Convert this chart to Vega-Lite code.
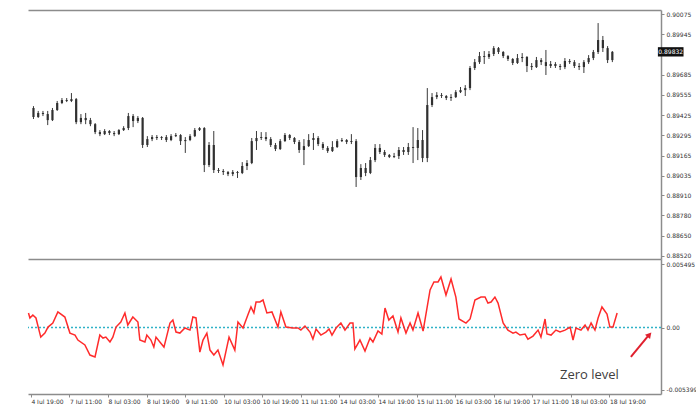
{
  "$schema": "https://vega.github.io/schema/vega-lite/v6.json",
  "background": "white",
  "padding": {"left": 25, "top": 10, "right": 0, "bottom": 0},
  "spacing": 0,
  "config": {
    "view": {"stroke": null},
    "axis": {
      "grid": false,
      "domainColor": "#8c8c8c",
      "domainWidth": 1.5,
      "tickColor": "#8c8c8c",
      "tickSize": 3,
      "labelFont": "DejaVu Sans",
      "labelFontSize": 6,
      "labelColor": "#333333",
      "labelPadding": 2,
      "labelOverlap": false,
      "labelBound": false,
      "labelFlush": false
    },
    "axisY": {"labelOverlap": false}
  },
  "datasets": {
    "candles": [
      {"t": -1, "o": 0.89471, "hi": 0.89483, "lo": 0.89400, "c": 0.89413},
      {"t": 1, "o": 0.89413, "hi": 0.89452, "lo": 0.89407, "c": 0.89439},
      {"t": 3, "o": 0.89439, "hi": 0.89452, "lo": 0.89419, "c": 0.89432},
      {"t": 5, "o": 0.89432, "hi": 0.89452, "lo": 0.89361, "c": 0.89393},
      {"t": 7, "o": 0.89393, "hi": 0.89471, "lo": 0.89387, "c": 0.89458},
      {"t": 9, "o": 0.89458, "hi": 0.89516, "lo": 0.89452, "c": 0.89503},
      {"t": 11, "o": 0.89503, "hi": 0.89535, "lo": 0.89496, "c": 0.89522},
      {"t": 13, "o": 0.89522, "hi": 0.89535, "lo": 0.89509, "c": 0.89516},
      {"t": 15, "o": 0.89516, "hi": 0.89567, "lo": 0.89509, "c": 0.89528},
      {"t": 17, "o": 0.89528, "hi": 0.89535, "lo": 0.89367, "c": 0.89380},
      {"t": 19, "o": 0.89380, "hi": 0.89432, "lo": 0.89367, "c": 0.89407},
      {"t": 21, "o": 0.89407, "hi": 0.89439, "lo": 0.89367, "c": 0.89393},
      {"t": 23, "o": 0.89393, "hi": 0.89407, "lo": 0.89354, "c": 0.89367},
      {"t": 25, "o": 0.89367, "hi": 0.89374, "lo": 0.89303, "c": 0.89316},
      {"t": 27, "o": 0.89316, "hi": 0.89329, "lo": 0.89290, "c": 0.89303},
      {"t": 29, "o": 0.89303, "hi": 0.89335, "lo": 0.89297, "c": 0.89323},
      {"t": 31, "o": 0.89323, "hi": 0.89329, "lo": 0.89297, "c": 0.89310},
      {"t": 33, "o": 0.89310, "hi": 0.89323, "lo": 0.89290, "c": 0.89303},
      {"t": 35, "o": 0.89303, "hi": 0.89335, "lo": 0.89297, "c": 0.89329},
      {"t": 37, "o": 0.89329, "hi": 0.89354, "lo": 0.89323, "c": 0.89342},
      {"t": 39, "o": 0.89342, "hi": 0.89439, "lo": 0.89329, "c": 0.89419},
      {"t": 41, "o": 0.89419, "hi": 0.89432, "lo": 0.89348, "c": 0.89387},
      {"t": 43, "o": 0.89387, "hi": 0.89419, "lo": 0.89374, "c": 0.89407},
      {"t": 45, "o": 0.89407, "hi": 0.89413, "lo": 0.89214, "c": 0.89233},
      {"t": 47, "o": 0.89233, "hi": 0.89290, "lo": 0.89220, "c": 0.89271},
      {"t": 49, "o": 0.89271, "hi": 0.89297, "lo": 0.89258, "c": 0.89284},
      {"t": 51, "o": 0.89284, "hi": 0.89297, "lo": 0.89265, "c": 0.89278},
      {"t": 53, "o": 0.89278, "hi": 0.89290, "lo": 0.89265, "c": 0.89284},
      {"t": 55, "o": 0.89284, "hi": 0.89297, "lo": 0.89252, "c": 0.89265},
      {"t": 57, "o": 0.89265, "hi": 0.89303, "lo": 0.89258, "c": 0.89290},
      {"t": 59, "o": 0.89290, "hi": 0.89310, "lo": 0.89284, "c": 0.89297},
      {"t": 61, "o": 0.89297, "hi": 0.89303, "lo": 0.89233, "c": 0.89258},
      {"t": 63, "o": 0.89258, "hi": 0.89284, "lo": 0.89182, "c": 0.89265},
      {"t": 65, "o": 0.89265, "hi": 0.89303, "lo": 0.89258, "c": 0.89290},
      {"t": 67, "o": 0.89290, "hi": 0.89342, "lo": 0.89284, "c": 0.89329},
      {"t": 69, "o": 0.89329, "hi": 0.89348, "lo": 0.89323, "c": 0.89342},
      {"t": 71, "o": 0.89342, "hi": 0.89348, "lo": 0.89059, "c": 0.89104},
      {"t": 73, "o": 0.89104, "hi": 0.89252, "lo": 0.89091, "c": 0.89233},
      {"t": 75, "o": 0.89233, "hi": 0.89323, "lo": 0.89053, "c": 0.89072},
      {"t": 77, "o": 0.89072, "hi": 0.89085, "lo": 0.89053, "c": 0.89066},
      {"t": 79, "o": 0.89066, "hi": 0.89078, "lo": 0.89040, "c": 0.89059},
      {"t": 81, "o": 0.89059, "hi": 0.89066, "lo": 0.89033, "c": 0.89046},
      {"t": 83, "o": 0.89046, "hi": 0.89072, "lo": 0.89033, "c": 0.89059},
      {"t": 85, "o": 0.89059, "hi": 0.89066, "lo": 0.89021, "c": 0.89053},
      {"t": 87, "o": 0.89053, "hi": 0.89123, "lo": 0.89046, "c": 0.89098},
      {"t": 89, "o": 0.89098, "hi": 0.89136, "lo": 0.89072, "c": 0.89117},
      {"t": 91, "o": 0.89117, "hi": 0.89278, "lo": 0.89110, "c": 0.89258},
      {"t": 93, "o": 0.89258, "hi": 0.89323, "lo": 0.89201, "c": 0.89278},
      {"t": 95, "o": 0.89278, "hi": 0.89316, "lo": 0.89265, "c": 0.89284},
      {"t": 97, "o": 0.89284, "hi": 0.89316, "lo": 0.89258, "c": 0.89271},
      {"t": 99, "o": 0.89271, "hi": 0.89284, "lo": 0.89220, "c": 0.89233},
      {"t": 101, "o": 0.89233, "hi": 0.89246, "lo": 0.89194, "c": 0.89207},
      {"t": 103, "o": 0.89207, "hi": 0.89271, "lo": 0.89201, "c": 0.89258},
      {"t": 105, "o": 0.89258, "hi": 0.89310, "lo": 0.89252, "c": 0.89297},
      {"t": 107, "o": 0.89297, "hi": 0.89303, "lo": 0.89265, "c": 0.89278},
      {"t": 109, "o": 0.89278, "hi": 0.89284, "lo": 0.89239, "c": 0.89252},
      {"t": 111, "o": 0.89252, "hi": 0.89265, "lo": 0.89182, "c": 0.89201},
      {"t": 113, "o": 0.89201, "hi": 0.89271, "lo": 0.89104, "c": 0.89226},
      {"t": 115, "o": 0.89226, "hi": 0.89303, "lo": 0.89220, "c": 0.89265},
      {"t": 117, "o": 0.89265, "hi": 0.89310, "lo": 0.89201, "c": 0.89278},
      {"t": 119, "o": 0.89278, "hi": 0.89290, "lo": 0.89226, "c": 0.89239},
      {"t": 121, "o": 0.89239, "hi": 0.89252, "lo": 0.89201, "c": 0.89214},
      {"t": 123, "o": 0.89214, "hi": 0.89226, "lo": 0.89182, "c": 0.89194},
      {"t": 125, "o": 0.89194, "hi": 0.89258, "lo": 0.89188, "c": 0.89220},
      {"t": 127, "o": 0.89220, "hi": 0.89271, "lo": 0.89214, "c": 0.89258},
      {"t": 129, "o": 0.89258, "hi": 0.89278, "lo": 0.89252, "c": 0.89265},
      {"t": 131, "o": 0.89265, "hi": 0.89271, "lo": 0.89239, "c": 0.89252},
      {"t": 133, "o": 0.89252, "hi": 0.89303, "lo": 0.89239, "c": 0.89258},
      {"t": 135, "o": 0.89258, "hi": 0.89271, "lo": 0.88963, "c": 0.89027},
      {"t": 137, "o": 0.89027, "hi": 0.89110, "lo": 0.89008, "c": 0.89085},
      {"t": 139, "o": 0.89085, "hi": 0.89117, "lo": 0.89033, "c": 0.89053},
      {"t": 141, "o": 0.89053, "hi": 0.89156, "lo": 0.89046, "c": 0.89136},
      {"t": 143, "o": 0.89136, "hi": 0.89239, "lo": 0.89123, "c": 0.89214},
      {"t": 145, "o": 0.89214, "hi": 0.89239, "lo": 0.89175, "c": 0.89188},
      {"t": 147, "o": 0.89188, "hi": 0.89201, "lo": 0.89156, "c": 0.89169},
      {"t": 149, "o": 0.89169, "hi": 0.89175, "lo": 0.89149, "c": 0.89156},
      {"t": 151, "o": 0.89156, "hi": 0.89182, "lo": 0.89149, "c": 0.89162},
      {"t": 153, "o": 0.89162, "hi": 0.89220, "lo": 0.89143, "c": 0.89201},
      {"t": 155, "o": 0.89201, "hi": 0.89220, "lo": 0.89169, "c": 0.89188},
      {"t": 157, "o": 0.89188, "hi": 0.89246, "lo": 0.89169, "c": 0.89220},
      {"t": 159, "o": 0.89220, "hi": 0.89348, "lo": 0.89117, "c": 0.89214},
      {"t": 161, "o": 0.89214, "hi": 0.89342, "lo": 0.89136, "c": 0.89265},
      {"t": 163, "o": 0.89265, "hi": 0.89329, "lo": 0.89123, "c": 0.89149},
      {"t": 165, "o": 0.89149, "hi": 0.89599, "lo": 0.89123, "c": 0.89490},
      {"t": 167, "o": 0.89490, "hi": 0.89567, "lo": 0.89477, "c": 0.89541},
      {"t": 169, "o": 0.89541, "hi": 0.89573, "lo": 0.89528, "c": 0.89554},
      {"t": 171, "o": 0.89554, "hi": 0.89567, "lo": 0.89535, "c": 0.89548},
      {"t": 173, "o": 0.89548, "hi": 0.89554, "lo": 0.89522, "c": 0.89535},
      {"t": 175, "o": 0.89535, "hi": 0.89560, "lo": 0.89516, "c": 0.89541},
      {"t": 177, "o": 0.89541, "hi": 0.89586, "lo": 0.89535, "c": 0.89573},
      {"t": 179, "o": 0.89573, "hi": 0.89606, "lo": 0.89567, "c": 0.89586},
      {"t": 181, "o": 0.89586, "hi": 0.89618, "lo": 0.89548, "c": 0.89599},
      {"t": 183, "o": 0.89599, "hi": 0.89741, "lo": 0.89586, "c": 0.89728},
      {"t": 185, "o": 0.89728, "hi": 0.89786, "lo": 0.89715, "c": 0.89766},
      {"t": 187, "o": 0.89766, "hi": 0.89831, "lo": 0.89754, "c": 0.89805},
      {"t": 189, "o": 0.89805, "hi": 0.89837, "lo": 0.89754, "c": 0.89799},
      {"t": 191, "o": 0.89799, "hi": 0.89837, "lo": 0.89786, "c": 0.89818},
      {"t": 193, "o": 0.89818, "hi": 0.89869, "lo": 0.89805, "c": 0.89856},
      {"t": 195, "o": 0.89856, "hi": 0.89863, "lo": 0.89818, "c": 0.89831},
      {"t": 197, "o": 0.89831, "hi": 0.89837, "lo": 0.89792, "c": 0.89805},
      {"t": 199, "o": 0.89805, "hi": 0.89811, "lo": 0.89773, "c": 0.89786},
      {"t": 201, "o": 0.89786, "hi": 0.89792, "lo": 0.89747, "c": 0.89760},
      {"t": 203, "o": 0.89760, "hi": 0.89818, "lo": 0.89754, "c": 0.89792},
      {"t": 205, "o": 0.89792, "hi": 0.89824, "lo": 0.89766, "c": 0.89799},
      {"t": 207, "o": 0.89799, "hi": 0.89805, "lo": 0.89702, "c": 0.89741},
      {"t": 209, "o": 0.89741, "hi": 0.89760, "lo": 0.89715, "c": 0.89734},
      {"t": 211, "o": 0.89734, "hi": 0.89799, "lo": 0.89728, "c": 0.89779},
      {"t": 213, "o": 0.89779, "hi": 0.89792, "lo": 0.89747, "c": 0.89766},
      {"t": 215, "o": 0.89766, "hi": 0.89844, "lo": 0.89683, "c": 0.89741},
      {"t": 217, "o": 0.89741, "hi": 0.89773, "lo": 0.89728, "c": 0.89754},
      {"t": 219, "o": 0.89754, "hi": 0.89766, "lo": 0.89728, "c": 0.89741},
      {"t": 221, "o": 0.89741, "hi": 0.89754, "lo": 0.89715, "c": 0.89734},
      {"t": 223, "o": 0.89734, "hi": 0.89792, "lo": 0.89721, "c": 0.89773},
      {"t": 225, "o": 0.89773, "hi": 0.89786, "lo": 0.89754, "c": 0.89766},
      {"t": 227, "o": 0.89766, "hi": 0.89779, "lo": 0.89728, "c": 0.89741},
      {"t": 229, "o": 0.89741, "hi": 0.89760, "lo": 0.89715, "c": 0.89734},
      {"t": 231, "o": 0.89734, "hi": 0.89779, "lo": 0.89696, "c": 0.89766},
      {"t": 233, "o": 0.89766, "hi": 0.89811, "lo": 0.89754, "c": 0.89792},
      {"t": 235, "o": 0.89792, "hi": 0.89844, "lo": 0.89779, "c": 0.89831},
      {"t": 237, "o": 0.89831, "hi": 0.90017, "lo": 0.89818, "c": 0.89908},
      {"t": 239, "o": 0.89908, "hi": 0.89934, "lo": 0.89831, "c": 0.89856},
      {"t": 241, "o": 0.89856, "hi": 0.89869, "lo": 0.89760, "c": 0.89779},
      {"t": 243, "o": 0.89779, "hi": 0.89837, "lo": 0.89766, "c": 0.89832}
    ],
    "osc": [
      {"t": -1.0, "v": 0.00126}, {"t": -0.4, "v": 0.00083}, {"t": 0.8, "v": 0.00109},
      {"t": 2.1, "v": 0.00083}, {"t": 4.1, "v": -0.00083}, {"t": 5.8, "v": -0.00048},
      {"t": 7.1, "v": 0.00004}, {"t": 9.1, "v": 0.00039}, {"t": 11.2, "v": 0.00135},
      {"t": 14.1, "v": 0.00091}, {"t": 16.2, "v": -0.00048}, {"t": 18.3, "v": -0.00065},
      {"t": 19.5, "v": -0.00108}, {"t": 22.4, "v": -0.00151}, {"t": 24.5, "v": -0.00238},
      {"t": 26.6, "v": -0.00255}, {"t": 28.6, "v": -0.00065}, {"t": 29.9, "v": -0.00091},
      {"t": 31.1, "v": -0.00083}, {"t": 32.8, "v": -0.00125}, {"t": 34.0, "v": -0.00083},
      {"t": 35.3, "v": 0.00004}, {"t": 37.3, "v": 0.00048}, {"t": 39.0, "v": 0.00126},
      {"t": 40.2, "v": 0.00022}, {"t": 42.3, "v": 0.00091}, {"t": 44.4, "v": 0.00048},
      {"t": 45.2, "v": -0.00108}, {"t": 47.3, "v": -0.00125}, {"t": 48.1, "v": -0.00065},
      {"t": 49.8, "v": -0.00108}, {"t": 51.0, "v": -0.00169}, {"t": 51.9, "v": -0.00083},
      {"t": 53.5, "v": -0.00125}, {"t": 55.2, "v": -0.00169}, {"t": 57.7, "v": 0.00039},
      {"t": 58.9, "v": 0.00065}, {"t": 60.2, "v": -0.00039}, {"t": 61.8, "v": -0.00048},
      {"t": 63.9, "v": -0.00004}, {"t": 66.0, "v": -0.00022}, {"t": 67.2, "v": 0.00091},
      {"t": 68.5, "v": 0.00083}, {"t": 70.1, "v": -0.00212}, {"t": 71.4, "v": -0.00108},
      {"t": 73.0, "v": -0.00048}, {"t": 74.3, "v": -0.00195}, {"t": 75.9, "v": -0.00238},
      {"t": 77.6, "v": -0.00195}, {"t": 79.7, "v": -0.00324}, {"t": 82.2, "v": -0.00083},
      {"t": 84.6, "v": -0.00195}, {"t": 85.9, "v": 0.00048}, {"t": 88.0, "v": -0.00004},
      {"t": 90.0, "v": 0.00109}, {"t": 91.3, "v": 0.00178}, {"t": 92.5, "v": 0.00126},
      {"t": 93.4, "v": 0.00221}, {"t": 95.0, "v": 0.00221}, {"t": 96.3, "v": 0.00238},
      {"t": 97.9, "v": 0.00126}, {"t": 100.0, "v": 0.00135}, {"t": 102.5, "v": 0.00004},
      {"t": 103.7, "v": 0.00135}, {"t": 105.8, "v": 0.00004}, {"t": 108.7, "v": -0.00004},
      {"t": 110.8, "v": -0.00004}, {"t": 112.0, "v": -0.00022}, {"t": 113.7, "v": 0.00013},
      {"t": 115.8, "v": -0.00039}, {"t": 117.0, "v": -0.00100}, {"t": 118.3, "v": -0.00013},
      {"t": 120.3, "v": -0.00065}, {"t": 122.4, "v": -0.00039}, {"t": 123.7, "v": -0.00013},
      {"t": 124.9, "v": -0.00065}, {"t": 126.6, "v": -0.00004}, {"t": 128.6, "v": 0.00039},
      {"t": 130.3, "v": -0.00022}, {"t": 132.4, "v": 0.00039}, {"t": 133.6, "v": 0.00039},
      {"t": 134.4, "v": -0.00186}, {"t": 136.5, "v": -0.00108}, {"t": 138.6, "v": -0.00203},
      {"t": 140.7, "v": -0.00091}, {"t": 141.9, "v": -0.00125}, {"t": 144.0, "v": -0.00030},
      {"t": 145.6, "v": -0.00056}, {"t": 146.9, "v": 0.00169}, {"t": 148.5, "v": 0.00065},
      {"t": 150.2, "v": 0.00100}, {"t": 152.3, "v": -0.00039}, {"t": 153.5, "v": 0.00083},
      {"t": 155.6, "v": -0.00048}, {"t": 157.3, "v": 0.00039}, {"t": 158.5, "v": -0.00022},
      {"t": 160.6, "v": 0.00126}, {"t": 162.7, "v": -0.00030}, {"t": 165.6, "v": 0.00325},
      {"t": 167.2, "v": 0.00394}, {"t": 168.9, "v": 0.00394}, {"t": 170.1, "v": 0.00437},
      {"t": 172.2, "v": 0.00281}, {"t": 174.3, "v": 0.00420}, {"t": 176.3, "v": 0.00264},
      {"t": 177.6, "v": 0.00074}, {"t": 180.5, "v": 0.00039}, {"t": 182.2, "v": 0.00074},
      {"t": 184.2, "v": 0.00238}, {"t": 186.7, "v": 0.00264}, {"t": 188.4, "v": 0.00264},
      {"t": 189.6, "v": 0.00212}, {"t": 190.9, "v": 0.00221}, {"t": 192.5, "v": 0.00264},
      {"t": 193.8, "v": 0.00212}, {"t": 195.9, "v": 0.00039}, {"t": 197.9, "v": -0.00022},
      {"t": 200.0, "v": -0.00048}, {"t": 201.2, "v": -0.00039}, {"t": 202.9, "v": -0.00065},
      {"t": 205.0, "v": -0.00056}, {"t": 206.2, "v": -0.00100}, {"t": 208.3, "v": -0.00074},
      {"t": 210.4, "v": -0.00022}, {"t": 211.6, "v": -0.00083}, {"t": 213.3, "v": 0.00074},
      {"t": 214.1, "v": -0.00056}, {"t": 215.8, "v": -0.00065}, {"t": 217.8, "v": -0.00022},
      {"t": 219.5, "v": -0.00039}, {"t": 221.6, "v": -0.00022}, {"t": 223.7, "v": 0.00004},
      {"t": 224.9, "v": -0.00108}, {"t": 226.1, "v": -0.00004}, {"t": 228.2, "v": -0.00022},
      {"t": 229.9, "v": 0.00022}, {"t": 231.1, "v": -0.00022}, {"t": 232.4, "v": 0.00039},
      {"t": 234.0, "v": -0.00022}, {"t": 235.3, "v": 0.00083}, {"t": 236.9, "v": 0.00178},
      {"t": 239.0, "v": 0.00117}, {"t": 240.2, "v": 0.00004}, {"t": 241.5, "v": 0.00004},
      {"t": 243.2, "v": 0.00126}
    ],
    "note": [{"label": "Zero level"}],
    "lastprice": [{"price": 0.89832, "label": "0.89832"}]
  },
  "vconcat": [
    {
      "width": 633,
      "height": 249,
      "resolve": {"axis": {"x": "independent"}},
      "layer": [
        {
          "data": {"name": "candles"},
          "mark": {"type": "rule", "color": "#3a3a3a", "strokeWidth": 1},
          "encoding": {
            "x": {
              "field": "t", "type": "quantitative",
              "scale": {"domain": [-1.2, 261.4], "nice": false, "zero": false},
              "axis": {"orient": "top", "labels": false, "ticks": false, "title": null}
            },
            "y": {
              "field": "lo", "type": "quantitative", "title": null,
              "scale": {"domain": [0.885, 0.90101], "nice": false, "zero": false},
              "axis": {
                "orient": "right",
                "values": [0.90075, 0.89945, 0.89685, 0.89555, 0.89425, 0.89295, 0.89165, 0.89035, 0.8891, 0.8878, 0.8865, 0.8852],
                "format": ".5f",
                "labelOverlap": false
              }
            },
            "y2": {"field": "hi"}
          }
        },
        {
          "data": {"name": "candles"},
          "mark": {"type": "bar", "width": 2.2, "color": "#303030"},
          "encoding": {
            "x": {
              "field": "t", "type": "quantitative",
              "axis": {"orient": "bottom", "labels": false, "ticks": false, "title": null}
            },
            "y": {
              "field": "o", "type": "quantitative", "title": null,
              "axis": {
                "orient": "right",
                "values": [0.90075, 0.89945, 0.89685, 0.89555, 0.89425, 0.89295, 0.89165, 0.89035, 0.8891, 0.8878, 0.8865, 0.8852],
                "format": ".5f",
                "labelOverlap": false
              }
            },
            "y2": {"field": "c"}
          }
        },
        {
          "data": {"name": "lastprice"},
          "mark": {"type": "rect", "color": "#111111"},
          "encoding": {
            "x": {"datum": 262.2, "type": "quantitative", "axis": null},
            "x2": {"datum": 273.0},
            "y": {
              "datum": 0.89862, "type": "quantitative", "title": null,
              "axis": {
                "orient": "right",
                "values": [0.90075, 0.89945, 0.89685, 0.89555, 0.89425, 0.89295, 0.89165, 0.89035, 0.8891, 0.8878, 0.8865, 0.8852],
                "format": ".5f",
                "labelOverlap": false
              }
            },
            "y2": {"datum": 0.89802}
          }
        },
        {
          "data": {"name": "lastprice"},
          "mark": {"type": "text", "color": "white", "font": "DejaVu Sans", "fontSize": 6, "align": "center", "baseline": "middle"},
          "encoding": {
            "x": {"datum": 267.6, "type": "quantitative", "axis": null},
            "y": {
              "field": "price", "type": "quantitative", "title": null,
              "axis": {
                "orient": "right",
                "values": [0.90075, 0.89945, 0.89685, 0.89555, 0.89425, 0.89295, 0.89165, 0.89035, 0.8891, 0.8878, 0.8865, 0.8852],
                "format": ".5f",
                "labelOverlap": false
              }
            },
            "text": {"field": "label"}
          }
        }
      ]
    },
    {
      "width": 633,
      "height": 135,
      "layer": [
        {
          "data": {"name": "note"},
          "mark": {"type": "rule", "color": "#2fb2c8", "strokeWidth": 1.5, "strokeDash": [2, 2]},
          "encoding": {"y": {"datum": 0, "type": "quantitative", "title": null}}
        },
        {
          "data": {"name": "osc"},
          "mark": {"type": "line", "color": "#ff2b2b", "strokeWidth": 1.5},
          "encoding": {
            "x": {
              "field": "t", "type": "quantitative", "title": null,
              "scale": {"domain": [-1.2, 261.4], "nice": false, "zero": false},
              "axis": {
                "orient": "bottom",
                "values": [0, 16, 32, 48, 64, 80, 96, 112, 128, 144, 160, 176, 192, 208, 224, 240],
                "labelAlign": "left",
                "labelPadding": 1,
                "labelOverlap": false,
                "labelExpr": "['4 Jul 19:00','7 Jul 11:00','8 Jul 03:00','8 Jul 19:00','9 Jul 11:00','10 Jul 03:00','10 Jul 19:00','11 Jul 11:00','14 Jul 03:00','14 Jul 19:00','15 Jul 11:00','16 Jul 03:00','16 Jul 19:00','17 Jul 11:00','18 Jul 03:00','18 Jul 19:00'][round(datum.value / 16)]"
              }
            },
            "y": {
              "field": "v", "type": "quantitative", "title": null,
              "scale": {"domain": [-0.00575, 0.00593], "nice": false, "zero": false},
              "axis": {
                "orient": "right",
                "values": [0.005495, 0, -0.005399],
                "labelOverlap": false,
                "labelExpr": "datum.value == 0 ? '0.00' : datum.value > 0 ? '0.005495' : '-0.005399'"
              }
            }
          }
        },
        {
          "data": {"name": "note"},
          "mark": {"type": "text", "font": "Open Sans", "fontSize": 13, "color": "#404040", "align": "left", "baseline": "middle"},
          "encoding": {
            "x": {"datum": 219.5, "type": "quantitative"},
            "y": {"datum": -0.0041, "type": "quantitative", "title": null},
            "text": {"field": "label"}
          }
        },
        {
          "data": {"name": "note"},
          "mark": {"type": "rule", "color": "#e0202e", "strokeWidth": 2},
          "encoding": {
            "x": {"datum": 248.9, "type": "quantitative"},
            "y": {"datum": -0.00254, "type": "quantitative", "title": null},
            "x2": {"datum": 256.0},
            "y2": {"datum": -0.00075}
          }
        },
        {
          "data": {"name": "note"},
          "mark": {"type": "point", "shape": "triangle-up", "filled": true, "color": "#e0202e", "size": 45, "angle": 41, "opacity": 1},
          "encoding": {
            "x": {"datum": 256.6, "type": "quantitative"},
            "y": {"datum": -0.00062, "type": "quantitative", "title": null}
          }
        }
      ]
    }
  ]
}
